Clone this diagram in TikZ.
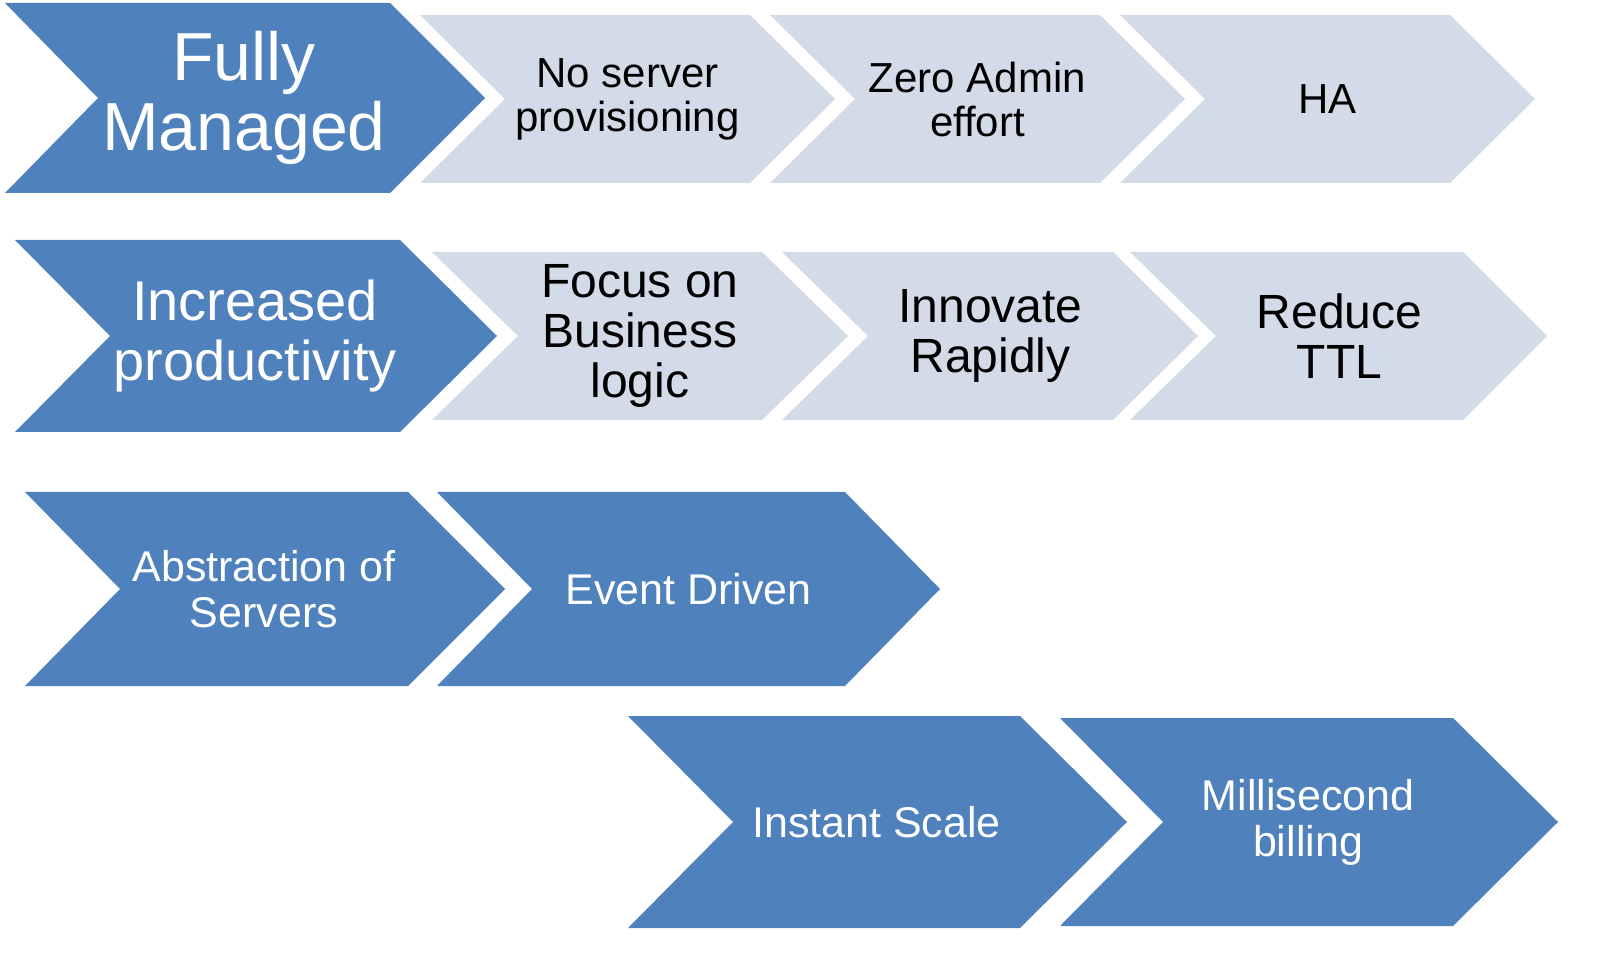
\documentclass[tikz,border=0pt]{standalone}
\usepackage{fontspec}
\setmainfont{Liberation Sans}
\usetikzlibrary{positioning}

\definecolor{chevdark}{HTML}{4F81BD}
\definecolor{chevlight}{HTML}{D3DAE8}

% #1 name, #2 left, #3 corner, #4 tip, #5 top, #6 bottom, #7 notch, #8 style, #9 text
\newcommand{\chevron}[9]{%
  \path [#8] (#2,#5) -- (#3,#5) -- (#4,{(#5+#6)/2}) -- (#3,#6) -- (#2,#6) -- (#7,{(#5+#6)/2}) -- cycle;
  \node [#8 text, align=center] (#1) at ({(#7+#3)/2},{(#5+#6)/2}) {#9};
}

\begin{document}
\begin{tikzpicture}[x=0.5pt, y=-0.5pt,
    dark/.style = {fill = chevdark},
    light/.style = {fill = chevlight},
    dark text/.style = {text = white, font = \fontsize{21.5}{23}\selectfont},
    light text/.style = {text = black, font = \fontsize{21}{22}\selectfont}]

    % row 1
    \chevron{managed}{5}{390}{485}{3}{193}{98}{dark}{}
    \node [text = white, font = \fontsize{34}{35}\selectfont, align = center] at (managed) {Fully\\Managed};
    \chevron{noserver}{420}{750}{835}{15}{183}{505}{light}{No server\\provisioning}
    \chevron{zeroadmin}{770}{1100}{1185}{15}{183}{855}{light}{Zero Admin\\effort}
    \chevron{ha}{1120}{1450}{1535}{15}{183}{1205}{light}{HA}

    % row 2
    \chevron{productivity}{15}{400}{497}{240}{432}{110}{dark}{}
    \node [text = white, font = \fontsize{28}{30}\selectfont, align = center] at (productivity) {Increased\\productivity};
    \chevron{focus}{432}{762}{848}{252}{420}{518}{light}{}
    \node [font = \fontsize{24}{25}\selectfont, align = center] at (focus) {Focus on\\Business\\logic};
    \chevron{innovate}{782}{1113}{1198}{252}{420}{868}{light}{}
    \node [font = \fontsize{24}{25}\selectfont, align = center] at (innovate) {Innovate\\Rapidly};
    \chevron{reduce}{1130}{1463}{1547}{252}{420}{1216}{light}{}
    \node [font = \fontsize{24}{25}\selectfont, align = center] at (reduce) {Reduce\\TTL};

    % row 3
    \chevron{abstraction}{25}{408}{505}{492}{686}{120}{dark}{Abstraction of\\Servers}
    \chevron{event}{437}{845}{940}{492}{686}{532}{dark}{Event Driven}

    % row 4
    \chevron{instant}{628}{1020}{1127}{716}{928}{733}{dark}{Instant Scale}
    \chevron{billing}{1060}{1453}{1558}{718}{926}{1163}{dark}{Millisecond\\billing}

    \pgfresetboundingbox
    \useasboundingbox (0,0) rectangle (1600,956);
\end{tikzpicture}
\end{document}
